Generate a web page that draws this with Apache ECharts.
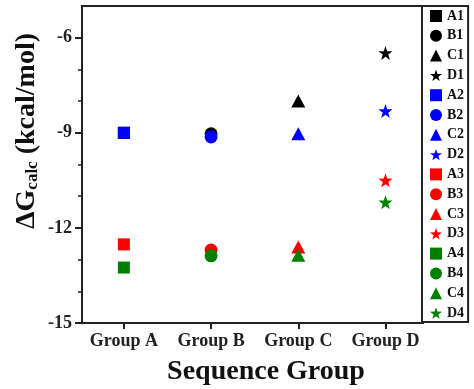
<!DOCTYPE html>
<html>
<head>
<meta charset="utf-8">
<script src="https://cdn.jsdelivr.net/npm/echarts@6/dist/echarts.min.js"></script>
<style>html,body{margin:0;padding:0;background:#fff}#c{width:474px;height:389px}</style>
</head>
<body>
<div id="c"></div>
<script>
const categories = ['Group A', 'Group B', 'Group C', 'Group D'];
const seriesNames = ['A1','B1','C1','D1','A2','B2','C2','D2','A3','B3','C3','D3','A4','B4','C4','D4'];
const seriesGroup = [0,1,2,3, 0,1,2,3, 0,1,2,3, 0,1,2,3];
const seriesValues = [-9.0, -9.03, -8.0, -6.48, -9.0, -9.13, -9.03, -8.31, -12.52, -12.7, -12.6, -10.5, -13.25, -12.88, -12.86, -11.19];
const yTicks = [-15, -12, -9, -6];
const yMinorTicks = [-14, -13, -11, -10, -8, -7];
const xTicks = [1, 2, 3, 4];

const STAR = 'path://M0,-10L2.35,-3.24L9.51,-3.09L3.8,1.24L5.88,8.09L0,4L-5.88,8.09L-3.8,1.24L-9.51,-3.09L-2.35,-3.24Z';
const shapeOf = { A: 'rect', B: 'circle', C: 'triangle', D: STAR };
const sizeOf = { A: 12, B: 13, C: [14, 13], D: 14 };
const colorOf = { '1': '#000000', '2': '#0000ff', '3': '#ff0000', '4': '#008000' };
const FONT = '"Liberation Serif", "Times New Roman", serif';

const series = seriesNames.map((n, i) => ({
  type: 'scatter',
  name: n,
  data: [[seriesGroup[i] + 1, seriesValues[i]]],
  symbol: shapeOf[n[0]],
  symbolSize: sizeOf[n[0]],
  itemStyle: { color: colorOf[n[1]], opacity: 1 },
  emphasis: { disabled: true }
}));

const chart = echarts.init(document.getElementById('c'), null, { renderer: 'canvas' });
chart.setOption({
  animation: false,
  backgroundColor: '#fff',
  grid: { left: 82, right: 51, top: 6, bottom: 66, show: true, borderColor: '#222', borderWidth: 2, backgroundColor: 'transparent' },
  xAxis: {
    type: 'value', min: 0.52, max: 4.43,
    axisLine: { show: true, lineStyle: { color: '#222', width: 2 } },
    axisTick: { show: true, customValues: xTicks, length: 6, lineStyle: { color: '#222', width: 2 } },
    axisLabel: { customValues: xTicks, formatter: v => categories[Math.round(v) - 1], fontFamily: FONT, fontWeight: 'bold', fontSize: 18, color: '#222', margin: 9 },
    splitLine: { show: false }
  },
  yAxis: [{
    type: 'value', min: -15, max: -5,
    axisLine: { show: true, lineStyle: { color: '#222', width: 2 } },
    axisTick: { show: true, customValues: yTicks, length: 7, lineStyle: { color: '#222', width: 2 } },
    axisLabel: { customValues: yTicks, fontFamily: FONT, fontWeight: 'bold', fontSize: 18, color: '#222', margin: 10 },
    splitLine: { show: false }
  }, {
    type: 'value', min: -15, max: -5, position: 'left',
    axisLine: { show: false },
    axisTick: { show: true, customValues: yMinorTicks, length: 4, lineStyle: { color: '#222', width: 1.5 } },
    axisLabel: { show: false },
    splitLine: { show: false }
  }],
  legend: {
    data: seriesNames, orient: 'vertical', left: 422, top: 6,
    itemWidth: 12, itemHeight: 12, itemGap: 5.8,
    padding: [3, 4, 2, 8],
    borderColor: '#222', borderWidth: 2, backgroundColor: '#fff',
    selectedMode: false,
    textStyle: { fontFamily: FONT, fontWeight: 'bold', fontSize: 14, color: '#111' }
  },
  graphic: [
    { type: 'text', x: 266, y: 372, style: { text: 'Sequence Group', font: 'bold 28px ' + FONT, fill: '#111', textAlign: 'center', textVerticalAlign: 'middle' } },
    { type: 'text', x: 26, y: 131, rotation: Math.PI / 2,
      style: {
        text: '{a|ΔG}{b|calc}{a| (kcal/mol)}',
        textAlign: 'center', textVerticalAlign: 'middle', fill: '#111',
        rich: {
          a: { fontFamily: FONT, fontWeight: 'bold', fontSize: 28, lineHeight: 30, verticalAlign: 'bottom' },
          b: { fontFamily: FONT, fontWeight: 'bold', fontSize: 17, lineHeight: 20, verticalAlign: 'bottom' }
        }
      } }
  ],
  series: series
});
</script>
</body>
</html>
